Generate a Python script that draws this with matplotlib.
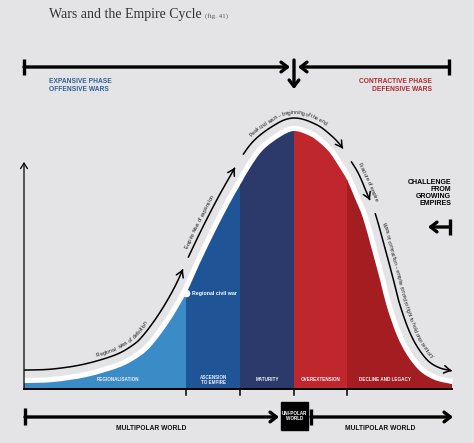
import numpy as np
import matplotlib
matplotlib.use('Agg')
import matplotlib.pyplot as plt
from matplotlib.patches import Rectangle, PathPatch
from matplotlib.path import Path
from matplotlib.font_manager import FontProperties

plt.rcParams['font.family'] = ['Liberation Sans', 'DejaVu Sans']

BG = '#e4e4e6'

# empire cycle curve: time (0-100) vs relative power (0-100)
cycle_t = [0, 6.8, 14.7, 22.4, 27.1, 30.1, 34.1, 37.9, 41.1, 44.6, 48.1, 50.5, 52.8, 55.8, 59.8, 63.1,
           66.8, 69.2, 71.5, 73.8, 75.5, 77.3, 79.2, 81.3, 83.2, 84.8, 87.1, 89.5, 92.5, 96.0, 100]
cycle_power = [2.3, 2.7, 4.7, 8.5, 12.8, 17.4, 26.4, 37.2, 48.8, 60.9, 72.1, 79.1, 85.7, 92.6, 97.7, 100,
               98.1, 95.3, 91.5, 85.7, 81.0, 74.0, 66.3, 53.9, 42.2, 31.8, 20.9, 13.2, 7.0, 3.5, 1.9]

phase_edges = [0, 37.9, 50.5, 63.1, 75.5, 100]
phase_names = ['REGIONALISATION', 'ASCENSION\nTO EMPIRE', 'MATURITY', 'OVEREXTENSION', 'DECLINE AND LEGACY']
war_labels = ['Regional  wars of definition',
              'Empire wars of expansion',
              'Peak civil wars \u2013 beginning of the end',
              'Fracture of empire',
              'Wars of contraction \u2013 empire forced to fight to hold onto territory']

phase_colors = ['#3b8bc7', '#1f5597', '#2c3a6b', '#c0272d', '#a31d21']
label_t = [22, 44.2, 56.8, 69.3, 84.3]
arrow_cuts = [(24, 183), (188, 235), (243, 343), (351, 370), (375, 452)]
label_start = [96, 186, 250, 359, 384]

fig = plt.figure(figsize=(4.74, 4.43), dpi=100, facecolor=BG)
deco = fig.add_axes([0, 0, 1, 1])
deco.set_xlim(0, 474)
deco.set_ylim(443, 0)
deco.axis('off')
deco.patch.set_visible(False)

ax = fig.add_axes([24 / 474, 54 / 443, 428 / 474, 258 / 443])
ax.set_xlim(0, 100)
ax.set_ylim(0, 100)
ax.axis('off')
ax.patch.set_visible(False)

t = np.array(cycle_t)
p = np.array(cycle_power)
P = np.column_stack([t, p])
n = len(P)

# smooth Bezier path through the read points (Catmull-Rom control points)
verts = [P[0]]
codes = [Path.MOVETO]
segs = []
for i in range(n - 1):
    pm = P[i - 1] if i > 0 else P[i]
    pp = P[i + 2] if i + 2 < n else P[i + 1]
    c1 = P[i] + (P[i + 1] - pm) / 6
    c2 = P[i + 1] - (pp - P[i]) / 6
    verts += [c1, c2, P[i + 1]]
    codes += [Path.CURVE4] * 3
    segs.append((P[i], c1, c2, P[i + 1]))
curve = Path(verts, codes)
area = Path(verts + [(100, 0), (0, 0), P[0]], codes + [Path.LINETO, Path.LINETO, Path.CLOSEPOLY])

ax.add_patch(PathPatch(curve, fill=False, edgecolor='white', lw=7.5, capstyle='butt', zorder=1,
                       clip_on=False))
for i in range(5):
    patch = PathPatch(area, facecolor=phase_colors[i], edgecolor='none', zorder=2)
    ax.add_patch(patch)
    clip = Rectangle((phase_edges[i], -1), phase_edges[i + 1] - phase_edges[i] + 0.15, 110,
                     transform=ax.transData)
    patch.set_clip_path(clip)
    ax.text(label_t[i], 3.5, phase_names[i], color='#e8edf4', fontsize=3.3, fontweight='bold',
            ha='center', va='center', linespacing=1.2, zorder=4)

ax.plot([0, 100], [0, 0], color='k', lw=1.4, clip_on=False, zorder=3)
for e in phase_edges[1:-1]:
    ax.plot([e, e], [0, -2.2], color='k', lw=1.1, clip_on=False, zorder=3)
ax.annotate('', xy=(0, 88), xytext=(0, 0), annotation_clip=False,
            arrowprops=dict(arrowstyle='->,head_length=0.4,head_width=0.25', lw=0.9, color='k',
                            shrinkA=0, shrinkB=0))

ax.plot(t[7], p[7], 'o', color='white', ms=4.5, zorder=5, clip_on=False)
ax.annotate('Regional civil war', xy=(t[7], p[7]), xytext=(4, 0), textcoords='offset points',
            color='white', fontsize=3.8, fontweight='bold', va='center', zorder=5)

# dense copy of the drawn curve, in display pixels, to run the war arrows alongside it
u = np.linspace(0, 1, 30)[:, None]
dense = np.vstack([(1 - u) ** 3 * a + 3 * (1 - u) ** 2 * u * b + 3 * (1 - u) * u ** 2 * c + u ** 3 * d
                   for a, b, c, d in segs])
disp = ax.transData.transform(dense)
L = np.concatenate([[0], np.cumsum(np.hypot(*np.diff(disp, axis=0).T))])
ss = np.linspace(0, L[-1], 2000)
dx = np.interp(ss, L, disp[:, 0])
dy = np.interp(ss, L, disp[:, 1])
gx = np.convolve(np.gradient(dx), np.ones(21), 'same')
gy = np.convolve(np.gradient(dy), np.ones(21), 'same')
gn = np.hypot(gx, gy)
nx, ny = -gy / gn, gx / gn


def offset_path(d):
    pts = np.column_stack([dx + d * nx, dy + d * ny])
    return deco.transData.inverted().transform(pts)


ox, oy = offset_path(13).T
for a, b in arrow_cuts:
    m = (ox >= a) & (ox <= b)
    xs, ys = ox[m], oy[m]
    deco.plot(xs, ys, color='k', lw=1.1, solid_capstyle='butt')
    deco.annotate('', xy=(xs[-1], ys[-1]), xytext=(xs[-5], ys[-5]),
                  arrowprops=dict(arrowstyle='->,head_length=0.5,head_width=0.3', lw=1.1, color='k',
                                  shrinkA=0, shrinkB=0, mutation_scale=9))

renderer = fig.canvas.get_renderer()


def curved_text(s, start_x, d=19, size=3.6):
    px, py = offset_path(d).T
    arc = np.concatenate([[0], np.cumsum(np.hypot(np.diff(px), np.diff(py)))])
    s0 = arc[np.argmax(px >= start_x)]
    fp = FontProperties(family='Liberation Sans', size=size)
    bar = renderer.get_text_width_height_descent('|', fp, ismath=False)[0]
    widths = [0] + [renderer.get_text_width_height_descent(s[:i + 1] + '|', fp, ismath=False)[0] - bar
                    for i in range(len(s))]
    for i, ch in enumerate(s):
        if ch == ' ':
            continue
        a = s0 + (widths[i] + widths[i + 1]) / 2
        x = np.interp(a, arc, px)
        y = np.interp(a, arc, py)
        j = min(max(np.searchsorted(arc, a), 4), len(px) - 5)
        ang = -np.degrees(np.arctan2(py[j + 4] - py[j - 4], px[j + 4] - px[j - 4]))
        deco.text(x, y, ch, fontproperties=fp, rotation=ang, rotation_mode='anchor',
                  ha='center', va='center_baseline', color='#111111')


for s, sx in zip(war_labels, label_start):
    curved_text(s, sx)

# title
title = deco.text(49, 18, 'Wars and the Empire Cycle', family='Liberation Serif', fontsize=10,
                  color='#333333', va='baseline')
bb = title.get_window_extent(renderer)
deco.text(bb.x1 + 3, 18, '(fig. 41)', family='Liberation Serif', fontsize=5, color='#555555',
          va='baseline')

# top phase bar
bar_kw = dict(color='k', lw=2.4, solid_capstyle='butt')
head = '->,head_length=0.45,head_width=0.35'
deco.plot([24, 24], [59, 75], **bar_kw)
deco.plot([449, 449], [59, 75], **bar_kw)
deco.annotate('', xy=(290, 67), xytext=(24, 67),
              arrowprops=dict(arrowstyle=head, lw=2.4, color='k', shrinkA=0, shrinkB=0))
deco.annotate('', xy=(298, 67), xytext=(449, 67),
              arrowprops=dict(arrowstyle=head, lw=2.4, color='k', shrinkA=0, shrinkB=0))
deco.annotate('', xy=(294, 89), xytext=(294, 60),
              arrowprops=dict(arrowstyle=head, lw=2.4, color='k', shrinkA=0, shrinkB=0))
deco.text(49, 78, 'EXPANSIVE PHASE\nOFFENSIVE WARS', color='#2f5f9e', fontsize=4.8, fontweight='bold',
          va='top', ha='left', linespacing=1.2)
deco.text(432, 78, 'CONTRACTIVE PHASE\nDEFENSIVE WARS', color='#ad2a31', fontsize=4.8, fontweight='bold',
          va='top', ha='right', multialignment='right', linespacing=1.2)

# challenge note
deco.text(451, 179, 'CHALLENGE\nFROM\nGROWING\nEMPIRES', color='k', fontsize=5, fontweight='bold',
          va='top', ha='right', multialignment='right', linespacing=1.0)
deco.plot([450, 450], [219, 235], **bar_kw)
deco.annotate('', xy=(428, 227), xytext=(450, 227),
              arrowprops=dict(arrowstyle=head, lw=2.4, color='k', shrinkA=0, shrinkB=0))

# bottom world bar
deco.plot([25, 25], [408, 425], **bar_kw)
deco.annotate('', xy=(279, 417), xytext=(25, 417),
              arrowprops=dict(arrowstyle=head, lw=2.4, color='k', shrinkA=0, shrinkB=0))
deco.add_patch(Rectangle((281, 402), 27, 28, color='k'))
deco.text(294.5, 416, 'UNI-POLAR\nWORLD', color='white', fontsize=3.3, fontweight='bold',
          ha='center', va='center', linespacing=1.1)
deco.plot([311, 311], [409, 425], **bar_kw)
deco.annotate('', xy=(453, 417), xytext=(311, 417),
              arrowprops=dict(arrowstyle=head, lw=2.4, color='k', shrinkA=0, shrinkB=0))
deco.text(151, 428.5, 'MULTIPOLAR WORLD', color='#111111', fontsize=4.8, fontweight='bold',
          ha='center', va='center')
deco.text(380, 428.5, 'MULTIPOLAR WORLD', color='#111111', fontsize=4.8, fontweight='bold',
          ha='center', va='center')

fig.savefig('out.png', dpi=100, facecolor=BG)
